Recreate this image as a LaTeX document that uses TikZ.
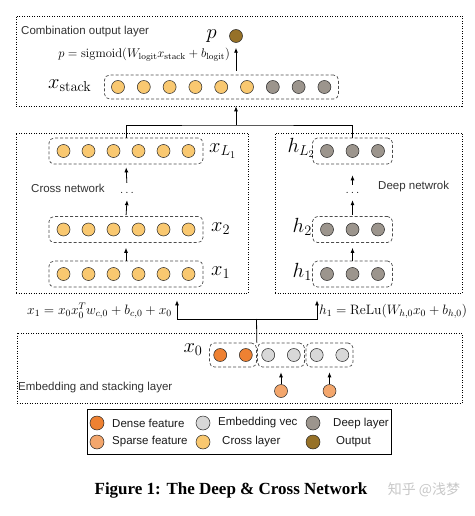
\RequirePackage{fix-cm}
\documentclass[tikz,border=0pt]{standalone}
\usepackage[no-math]{fontspec}
\newfontfamily\arial{Liberation Sans}
\newfontfamily\capfont{Liberation Serif}
\newfontfamily\cjk{Noto Sans CJK SC}
\usetikzlibrary{arrows.meta}
\definecolor{crossc}{RGB}{249,200,112}
\definecolor{deepc}{RGB}{156,149,141}
\definecolor{outc}{RGB}{150,113,40}
\definecolor{densec}{RGB}{238,129,50}
\definecolor{sparsec}{RGB}{243,166,108}
\definecolor{embc}{RGB}{216,216,216}
\tikzset{
  outerbox/.style={draw=black, line width=0.7pt, dash pattern=on 1pt off 1.5pt, rectangle, inner sep=0pt},
  groupbox/.style={draw=black!70, line width=0.7pt, dash pattern=on 3pt off 2pt, rounded corners=5pt, rectangle, inner sep=0pt},
  cnode/.style={circle, draw=black!85, line width=0.5pt, minimum size=13pt, inner sep=0pt},
  lnode/.style={circle, draw=black!85, line width=0.5pt, minimum size=14pt, inner sep=0pt},
  lab/.style={font=\arial\fontsize{11.5}{13}\selectfont, text=black!80, inner sep=0pt},
  leg/.style={font=\arial\fontsize{11.5}{13}\selectfont, text=black!90, inner sep=0pt, anchor=west},
  big/.style={font=\fontsize{20.5}{23}\selectfont, inner sep=0pt},
  frm/.style={font=\fontsize{13.6}{15}\selectfont, inner sep=0pt},
  frmtop/.style={font=\fontsize{12.6}{14}\selectfont, inner sep=0pt},
  arr/.style={-{Latex[length=5pt,width=4pt]}, line width=0.8pt},
  ln/.style={line width=0.8pt}
}
\begin{document}
\begin{tikzpicture}[x=1pt,y=-1pt]
\useasboundingbox (0,0) rectangle (474,516);

% outer dotted regions
\node[outerbox, minimum width=446pt, minimum height=90pt] (combbox) at (239,61) {};
\node[outerbox, minimum width=232pt, minimum height=160pt] (crossbox) at (132,213) {};
\node[outerbox, minimum width=187pt, minimum height=160pt] (deepbox) at (368.5,213) {};
\node[outerbox, minimum width=445pt, minimum height=70pt] (embbox) at (239.5,368) {};

% region labels
\node[lab, anchor=west] (combtxt) at (21,32) {Combination output layer};
\node[lab, anchor=west] (crosstxt) at (31,188) {Cross network};
\node[lab, anchor=west] (deeptxt) at (378,187) {Deep netwrok};
\node[lab, anchor=west] (embtxt) at (18,388) {Embedding and stacking layer};

% combination layer
\node[cnode, fill=outc] (pout) at (236,36) {};
\node[big, anchor=east] (plab) at (217,36) {$p$};
\node[frmtop, anchor=east] (pform) at (230,55) {$p=\mathrm{sigmoid}(W_{\mathrm{logit}}x_{\mathrm{stack}}+b_{\mathrm{logit}})$};
\node[groupbox, minimum width=234pt, minimum height=24pt] (stackbox) at (221.5,87) {};
\foreach \i in {0,...,5} \node[cnode, fill=crossc] (s\i) at ({118+25.8*\i},87) {};
\foreach \i in {6,...,8} \node[cnode, fill=deepc] (s\i) at ({118+25.8*\i},87) {};
\node[big, anchor=west] (xstack) at (48,86) {$x_{\mathrm{stack}}$};
\draw[arr, shorten <=4pt, shorten >=5pt] (stackbox.north -| pout) -- (pout.south);

% cross network
\node[groupbox, minimum width=154pt, minimum height=26pt] (xL1box) at (126,151) {};
\node[groupbox, minimum width=154pt, minimum height=26pt] (x2box) at (126,229.5) {};
\node[groupbox, minimum width=154pt, minimum height=26pt] (x1box) at (126,274) {};
\foreach \i in {0,...,5} {
  \node[cnode, fill=crossc] (cl\i) at ({63.5+25*\i},151) {};
  \node[cnode, fill=crossc] (cb\i) at ({63.5+25*\i},229.5) {};
  \node[cnode, fill=crossc] (ca\i) at ({63.5+25*\i},274) {};
}
\node[big, anchor=west] (xL1lab) at (209,151) {$x_{L_1}$};
\node[big, anchor=west] (x2lab) at (211,229) {$x_2$};
\node[big, anchor=west] (x1lab) at (211,273) {$x_1$};
\node[inner sep=0pt, minimum height=14pt, font=\fontsize{12}{14}\selectfont] (cdots) at (127,193) {$\ldots$};
\draw[arr, shorten <=3pt, shorten >=3pt] (cdots.north) -- (xL1box.south);
\draw[arr, shorten <=1pt] (x2box.north) -- (cdots.south);
\draw[arr, shorten >=5pt] (x1box.north) -- (x2box.south);

% deep network
\node[groupbox, minimum width=80pt, minimum height=26pt] (hL2box) at (352.5,151) {};
\node[groupbox, minimum width=80pt, minimum height=26pt] (h2box) at (352.5,229.5) {};
\node[groupbox, minimum width=80pt, minimum height=26pt] (h1box) at (352.5,274) {};
\foreach \i in {0,...,2} {
  \node[cnode, fill=deepc] (dl\i) at ({327+25.5*\i},151) {};
  \node[cnode, fill=deepc] (db\i) at ({327+25.5*\i},229.5) {};
  \node[cnode, fill=deepc] (da\i) at ({327+25.5*\i},274) {};
}
\node[big, anchor=east] (hL2lab) at (315,148) {$h_{L_2}$};
\node[big, anchor=east] (h2lab) at (312,227) {$h_2$};
\node[big, anchor=east] (h1lab) at (312,272) {$h_1$};
\node[inner sep=0pt, minimum height=14pt, font=\fontsize{12}{14}\selectfont] (ddots) at (352.5,193) {$\ldots$};
\draw[arr, shorten <=1pt, shorten >=11pt] (ddots.north) -- (hL2box.south);
\draw[arr, shorten <=1pt] (h2box.north) -- (ddots.south);
\draw[arr, shorten >=5pt] (h1box.north) -- (h2box.south);

% merge to stack
\coordinate (jn) at (236,125);
\draw[ln] (xL1box.north) |- (jn) -| (hL2box.north);
\draw[arr] (jn) -- (jn |- combbox.south);

% embedding layer
\node[big] (x0lab) at (193,350) {$x_0$};
\node[groupbox, minimum width=47pt, minimum height=24pt] (eb1) at (233,355) {};
\node[groupbox, minimum width=47pt, minimum height=24pt] (eb2) at (281,355) {};
\node[groupbox, minimum width=47pt, minimum height=24pt] (eb3) at (329.5,355) {};
\node[cnode, fill=densec] (d1) at (220.2,355) {};
\node[cnode, fill=densec] (d2) at (245.8,355) {};
\node[cnode, fill=embc] (e1) at (268.2,355) {};
\node[cnode, fill=embc] (e2) at (293.8,355) {};
\node[cnode, fill=embc] (e3) at (316.7,355) {};
\node[cnode, fill=embc] (e4) at (342.3,355) {};
\node[cnode, fill=sparsec] (sp1) at (281,391) {};
\node[cnode, fill=sparsec] (sp2) at (329.5,391) {};
\draw[arr, shorten >=5pt] (sp1.north) -- (eb2.south);
\draw[arr, shorten >=5pt] (sp2.north) -- (eb3.south);

% formulas and split to the two networks
\node[frm, anchor=east] (xform) at (172,311) {$x_1=x_0x_0^T w_{c,0}+b_{c,0}+x_0$};
\node[frm, anchor=west] (hform) at (319,311) {$h_1=\mathrm{ReLu}(W_{h,0}x_0+b_{h,0})$};
\coordinate (jb) at (256.5,319);
\coordinate (lt) at (177,319);
\coordinate (rt) at (317,319);
\draw[ln] (eb1.north east) -- (jb);
\draw[arr, shorten >=7pt] (jb) -| (lt |- crossbox.south);
\draw[arr, shorten >=7pt] (jb) -| (rt |- deepbox.south);

% legend
\node[draw=black, line width=0.8pt, rectangle, inner sep=0pt, minimum width=304pt, minimum height=45pt] (legbox) at (239,431.5) {};
\node[lnode, fill=densec] (lg1) at (97,423) {};
\node[leg] (lt1) at (112,423) {Dense feature};
\node[lnode, fill=sparsec] (lg2) at (97,442) {};
\node[leg] (lt2) at (112,442) {Sparse feature};
\node[lnode, fill=embc] (lg3) at (203,423) {};
\node[leg] (lt3) at (218,423) {Embedding vec};
\node[lnode, fill=crossc] (lg4) at (203,442) {};
\node[leg] (lt4) at (222,442) {Cross layer};
\node[lnode, fill=deepc] (lg5) at (313,423) {};
\node[leg] (lt5) at (333,424) {Deep layer};
\node[lnode, fill=outc] (lg6) at (313,442) {};
\node[leg] (lt6) at (336,442) {Output};

% caption
\node[font=\capfont\bfseries\fontsize{17}{20}\selectfont, inner sep=0pt] (caption) at (231,490) {Figure 1: The Deep \& Cross Network};
\node[font=\cjk\fontsize{14}{16}\selectfont, text=black!22, inner sep=0pt] (wm) at (424,490) {知乎 @浅梦};
\end{tikzpicture}
\end{document}
